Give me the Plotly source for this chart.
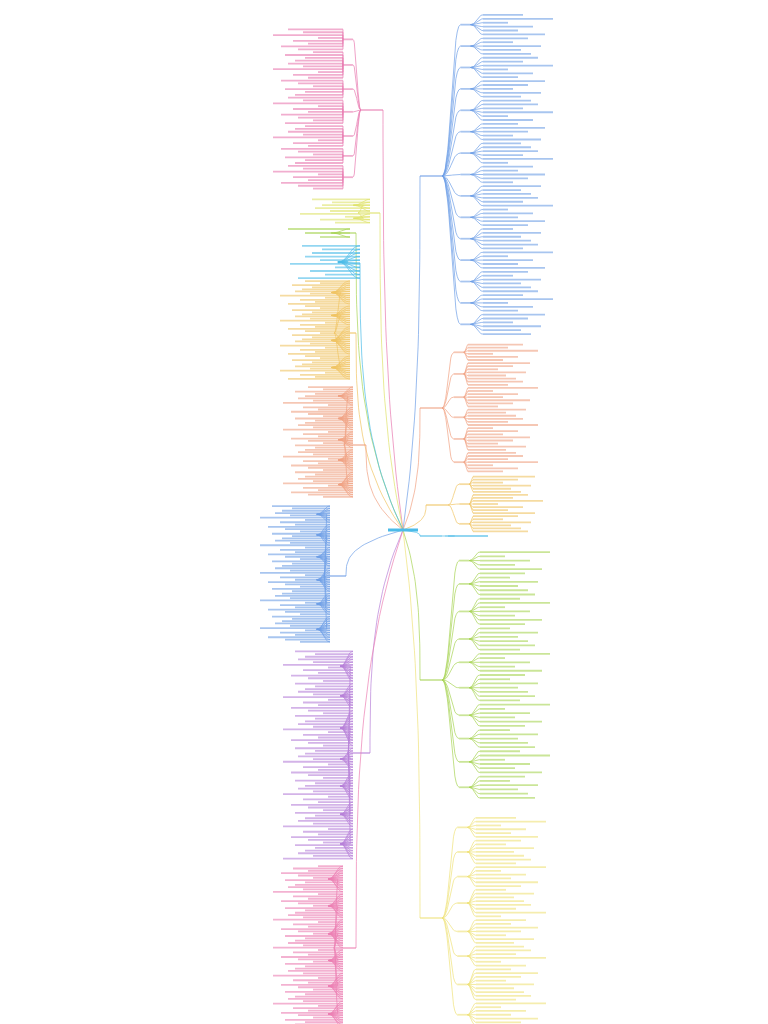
import numpy as np
import plotly.graph_objects as go

center_x, center_y = 395, 522
branch_colors = ["#e87ab0", "#dfe36a", "#a8d455", "#4bbbe8", "#f0c463", "#f0a283", "#6f9fe6",
                 "#b781d9", "#ec7fb3", "#6f9fe6", "#f0a283", "#f0c463", "#4bbbe8", "#a8d455", "#efe27a"]
branch_side = [-1, -1, -1, -1, -1, -1, -1, -1, -1, 1, 1, 1, 1, 1, 1]
branch_node_x = [375, 372, 348, 352, 348, 358, 338, 362, 348, 412, 412, 418, 412, 412, 412]
branch_node_y = [102, 205, 225, 255, 325, 437, 568, 745, 940, 168, 400, 497, 528, 672, 910]
branch_y_top = [20, 190, 219, 236, 272, 378, 497, 642, 857, 5, 335, 467, 528, 542, 808]
branch_y_bot = [182, 216, 231, 272, 372, 490, 635, 852, 1020, 328, 465, 525, 528, 792, 1020]
branch_leaf_edge = [335, 362, 342, 352, 342, 345, 322, 345, 335, 475, 460, 465, 440, 472, 468]
branch_groups = [[8, 10, 7, 9, 8, 6, 9], [5, 4], [3], [10], [12, 10, 14, 12], [9, 11, 8, 10, 12],
                 [8, 10, 9, 11, 10, 12], [12, 10, 14, 9, 11, 10, 12], [12, 11, 13, 10, 12, 12],
                 [6, 5, 6, 5, 6, 5, 6, 5, 6, 5, 6, 5, 6, 5, 6], [6, 8, 7, 6, 8, 7], [6, 7, 6], [1],
                 [5, 6, 7, 6, 5, 7, 6, 5, 6, 6], [6, 7, 6, 8, 7, 6, 9, 7]]
leaf_len = [55, 40, 70, 25, 50, 35, 62, 45, 30, 58, 38, 48]


def bez(x0, y0, x1, y1, n=16):
    t = np.linspace(0, 1, n)
    xm = (x0 + x1) / 2
    xs = (1-t)**3*x0 + 3*(1-t)**2*t*xm + 3*(1-t)*t**2*xm + t**3*x1
    ys = (1-t)**3*y0 + 3*(1-t)**2*t*y0 + 3*(1-t)*t**2*y1 + t**3*y1
    return list(xs) + [None], list(ys) + [None]


fig = go.Figure()
k = 0
for b in range(len(branch_colors)):
    col, s = branch_colors[b], branch_side[b]
    nx, ny = branch_node_x[b], branch_node_y[b]
    lx, ly, bx, by = [], [], [], []
    t = np.linspace(0, 1, 30)
    cx = center_x + (nx - center_x) * (1 - (1 - t) ** 3)
    cy = center_y + (ny - center_y) * t
    lx += list(cx) + [None]; ly += list(cy) + [None]
    bx += [nx, nx + s * 22, None]; by += [ny, ny, None]
    groups = branch_groups[b]
    total = sum(groups)
    y0, y1 = branch_y_top[b], branch_y_bot[b]
    edge = branch_leaf_edge[b]
    gx = nx + s * 22 + (edge - (nx + s * 22)) * 0.45
    idx = 0
    for g in groups:
        ys = [y0 + (y1 - y0) * (idx + i + 0.5) / total for i in range(g)] if total > 1 else [y0]
        gy = float(np.mean(ys))
        a, c = bez(nx + s * 22, ny, gx, gy)
        lx += a; ly += c
        bx += [gx, gx + s * 10, None]; by += [gy, gy, None]
        for yy in ys:
            a, c = bez(gx + s * 10, gy, edge, yy)
            lx += a; ly += c
            L = leaf_len[k % len(leaf_len)]; k += 1
            bx += [edge, edge + s * L, None]; by += [yy, yy, None]
        idx += g
    fig.add_trace(go.Scatter(x=lx, y=ly, mode="lines", line=dict(color=col, width=0.7),
                             hoverinfo="skip", showlegend=False))
    fig.add_trace(go.Scatter(x=bx, y=by, mode="lines", line=dict(color=col, width=1.8),
                             opacity=0.6, hoverinfo="skip", showlegend=False))

fig.add_trace(go.Scatter(x=[center_x - 15, center_x + 15], y=[center_y, center_y], mode="lines",
                         line=dict(color="#4bbbe8", width=3), showlegend=False, hoverinfo="skip"))

fig.update_layout(width=768, height=1024, margin=dict(l=0, r=0, t=0, b=0),
                  plot_bgcolor="white", paper_bgcolor="white",
                  xaxis=dict(range=[0, 768], visible=False, fixedrange=True),
                  yaxis=dict(range=[1024, 0], visible=False, fixedrange=True))
fig.write_html("out.html")
